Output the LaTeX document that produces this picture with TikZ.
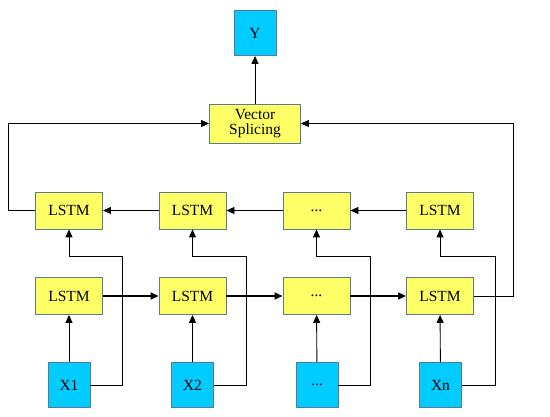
\documentclass[tikz,border=0pt]{standalone}
\usepackage{fontspec}
\setmainfont{Liberation Serif}
\usetikzlibrary{arrows.meta}
\definecolor{boxyel}{HTML}{FFFF66}
\definecolor{boxcyan}{HTML}{00CCFF}
\definecolor{boxedge}{HTML}{5A7A96}
\tikzset{
  lstmbox/.style={draw=boxedge, line width=0.9pt, fill=boxyel, minimum width=67pt, minimum height=37pt, inner sep=0pt, font=\fontsize{15.5}{17}\selectfont},
  inbox/.style={draw=boxedge, line width=0.9pt, fill=boxcyan, minimum width=42pt, minimum height=45pt, inner sep=0pt, font=\fontsize{15.5}{17}\selectfont},
  vsbox/.style={draw=boxedge, line width=0.9pt, fill=boxyel, minimum width=91pt, minimum height=39pt, inner sep=0pt, align=center, font=\fontsize{15.5}{15.5}\selectfont},
  conn/.style={draw=black, line width=0.9pt, -{Triangle[length=8pt,width=7pt]}},
  thickconn/.style={draw=black, line width=1.5pt, -{Triangle[length=8pt,width=7pt]}},
}
\begin{document}
\begin{tikzpicture}[x=1pt,y=-1pt]
\useasboundingbox (0,0) rectangle (550,417);
% output
\node[inbox] (y) at (255,33) {Y};
\node[vsbox] (vs) at (255,123.5) {Vector\\Splicing};
% top row (backward)
\node[lstmbox] (b1) at (69,210.5) {LSTM};
\node[lstmbox] (b2) at (192.5,210.5) {LSTM};
\node[lstmbox] (b3) at (316.5,210.5) {...};
\node[lstmbox] (b4) at (440,210.5) {LSTM};
% bottom row (forward)
\node[lstmbox] (f1) at (69,296) {LSTM};
\node[lstmbox] (f2) at (192.5,296) {LSTM};
\node[lstmbox] (f3) at (316.5,296) {...};
\node[lstmbox] (f4) at (440,296) {LSTM};
% inputs
\node[inbox] (x1) at (69,385) {X1};
\node[inbox] (x2) at (192.5,385) {X2};
\node[inbox] (x3) at (317,385) {...};
\node[inbox] (x4) at (440.5,385) {Xn};
% connectors
\draw[conn] (vs) -- (y);
\coordinate (lc) at (8,123.5);
\coordinate (rc) at (513,123.5);
\draw[conn] (b1.west) -| (lc) -- (vs.west);
\draw[conn] (f4.east) -| (rc) -- (vs.east);
\draw[conn] (b4) -- (b3);
\draw[conn] (b3) -- (b2);
\draw[conn] (b2) -- (b1);
\draw[thickconn] (f1) -- (f2);
\draw[thickconn] (f2) -- (f3);
\draw[thickconn] (f3) -- (f4);
\foreach \i in {1,2,3,4} {
  \draw[conn] (x\i) -- (f\i);
}
\coordinate (k1) at (122,256);
\coordinate (k2) at (246.5,256);
\coordinate (k3) at (370,256);
\coordinate (k4) at (495,256);
\foreach \i in {1,2,3,4} {
  \draw[conn] (x\i.east) -| (k\i) -| (b\i.south);
}
\end{tikzpicture}
\end{document}
